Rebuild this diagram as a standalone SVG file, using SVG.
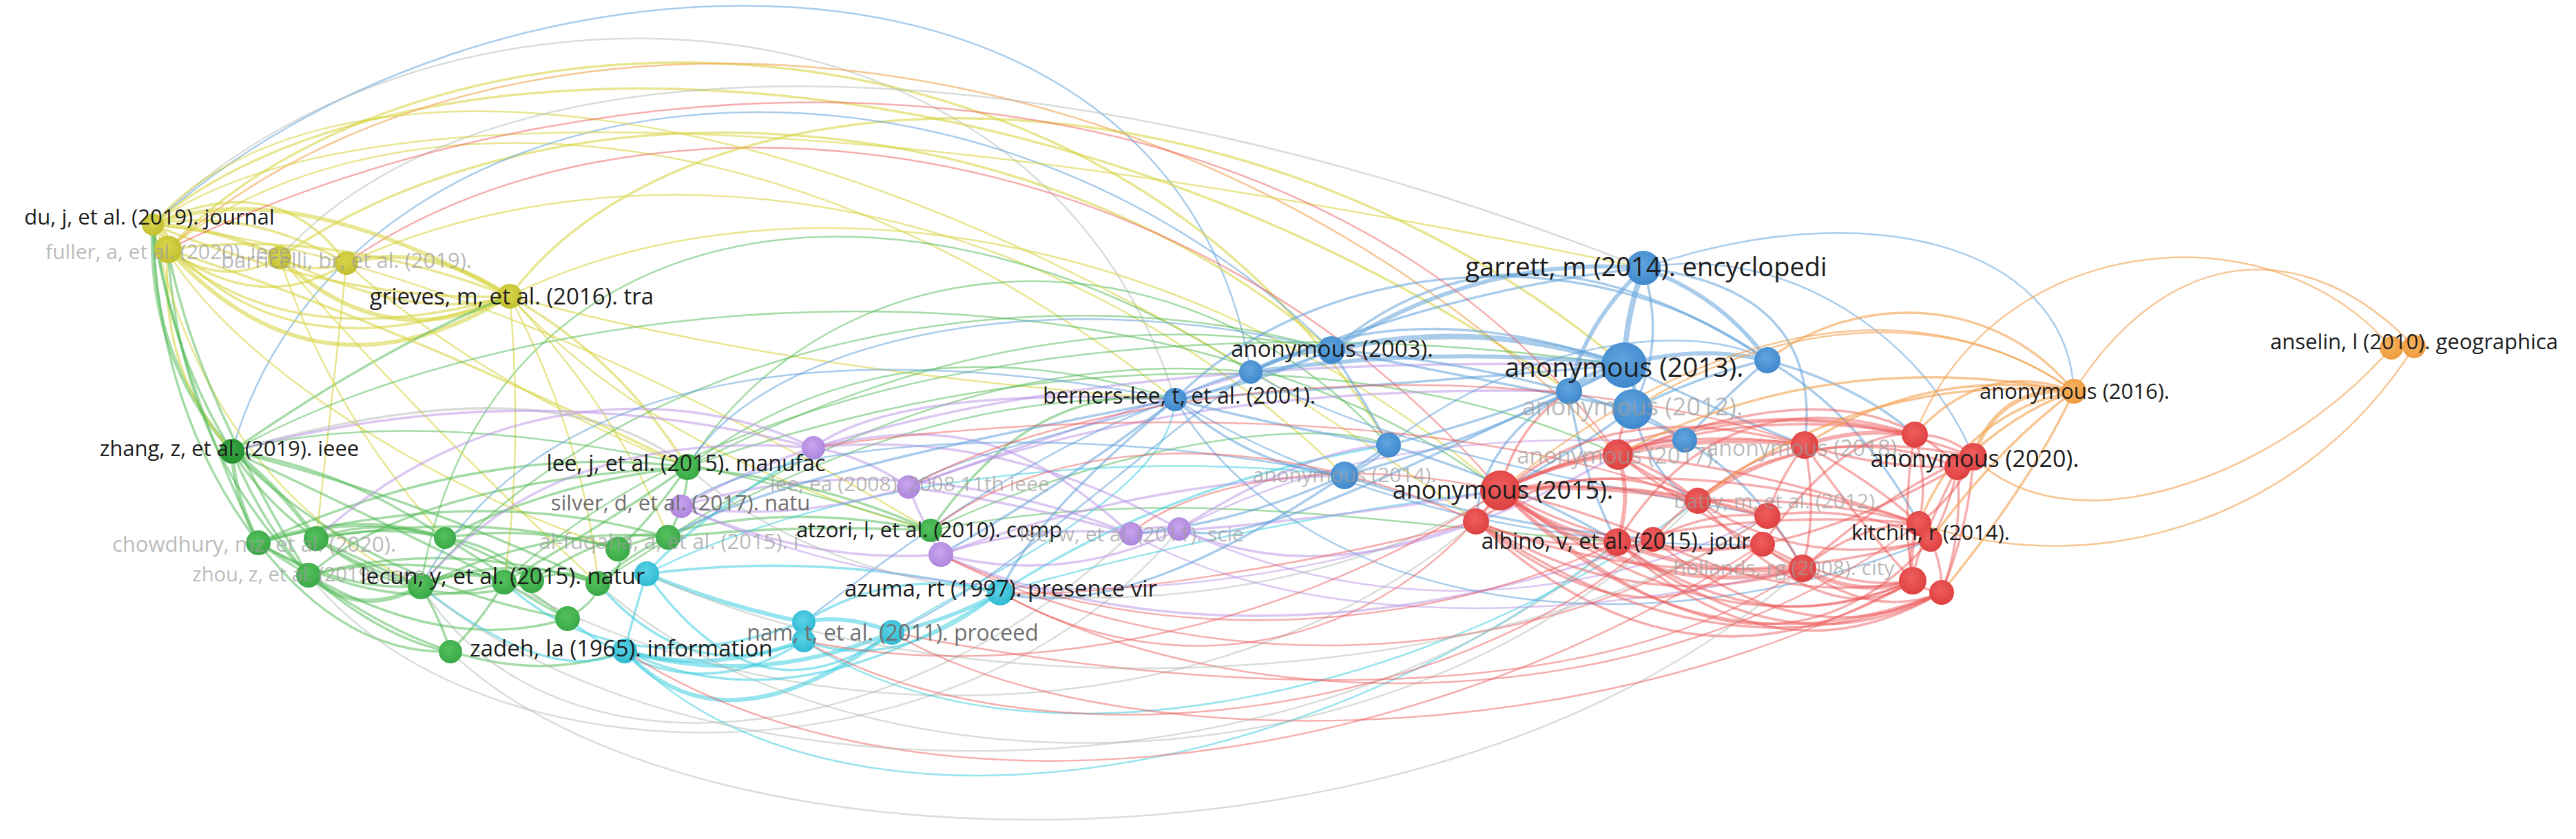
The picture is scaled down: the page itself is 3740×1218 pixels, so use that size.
<svg xmlns="http://www.w3.org/2000/svg" width="3740" height="1218" viewBox="0 0 3740 1218">
<style>
.e path{fill:none;stroke-width:3.5;stroke-linecap:round}
.ey{stroke:#d5d236;stroke-opacity:.55}
.eg{stroke:#4cb850;stroke-opacity:.5}
.ec{stroke:#3fcde0;stroke-opacity:.55}
.ep{stroke:#b88fe6;stroke-opacity:.5}
.eb{stroke:#5a9ed8;stroke-opacity:.52}
.er{stroke:#ec5454;stroke-opacity:.48}
.eo{stroke:#f2a04c;stroke-opacity:.6}
.ex{stroke:#a9b3ad;stroke-opacity:.45}
.w2{stroke-width:2.5!important}
.w5{stroke-width:6!important}
.w7{stroke-width:8!important}
text{font-family:"Open Sans","Noto Sans","DejaVu Sans",sans-serif;text-anchor:middle}
.ld{fill:#1d1d1d}
.lm{fill:#707070}
.lf{fill:#9c9c9c;fill-opacity:.7}
</style>
<defs>
<radialGradient id="gY" cx="45%" cy="40%" r="60%"><stop offset="0" stop-color="#d9d64e"/><stop offset="1" stop-color="#c2bf30"/></radialGradient>
<radialGradient id="gG" cx="45%" cy="40%" r="60%"><stop offset="0" stop-color="#55c25d"/><stop offset="1" stop-color="#3aa847"/></radialGradient>
<radialGradient id="gGd" cx="45%" cy="40%" r="60%"><stop offset="0" stop-color="#3aa946"/><stop offset="1" stop-color="#24902f"/></radialGradient>
<radialGradient id="gB" cx="45%" cy="40%" r="60%"><stop offset="0" stop-color="#62a6e0"/><stop offset="1" stop-color="#3f88cc"/></radialGradient>
<radialGradient id="gR" cx="45%" cy="40%" r="60%"><stop offset="0" stop-color="#ef5e5e"/><stop offset="1" stop-color="#de4040"/></radialGradient>
<radialGradient id="gP" cx="45%" cy="40%" r="60%"><stop offset="0" stop-color="#c8a4ee"/><stop offset="1" stop-color="#ad86dc"/></radialGradient>
<radialGradient id="gC" cx="45%" cy="40%" r="60%"><stop offset="0" stop-color="#5ad3e6"/><stop offset="1" stop-color="#30bad2"/></radialGradient>
<radialGradient id="gO" cx="45%" cy="40%" r="60%"><stop offset="0" stop-color="#f7b462"/><stop offset="1" stop-color="#ee9a3c"/></radialGradient>
</defs>
<rect width="3740" height="1218" fill="#ffffff"/>

<g id="connectors" class="e">
<!-- long top arcs -->
<path class="eb w2" d="M222 326 C700 -110 1700 -150 1816 540"/>
<path class="ex w2" d="M222 326 C600 -60 1500 -80 1706 580"/>
<path class="ey" d="M244 362 C600 -20 1600 -60 2016 646"/>
<path class="ey" d="M222 326 C550 40 1500 20 2278 568"/>
<path class="ey" d="M740 430 C1000 80 1800 60 2358 530"/>
<path class="ey w2" d="M244 362 C500 150 1100 100 1706 580"/>
<path class="eo w2" d="M244 362 C700 -50 1700 -20 2349 660"/>
<path class="ey" d="M406 374 C800 100 1500 130 1933 508"/>
<path class="ey w2" d="M503 382 C900 200 1500 250 1952 690"/>
<path class="ey w2" d="M740 430 C1100 250 1700 300 2178 712"/>
<path class="eb w2" d="M337 655 C500 80 1400 -20 1933 508"/>
<path class="eg w2" d="M611 851 C700 300 1300 200 1816 540"/>
<path class="eg w2" d="M998 678 C1200 350 1700 300 2016 646"/>
<path class="er w2" d="M2178 712 C1700 150 900 100 503 382"/>
<path class="ey w2" d="M222 326 C450 60 1200 60 2143 757"/>
<path class="ex w2" d="M406 374 C700 40 1500 40 2386 389"/>
<path class="ey w2" d="M222 326 C500 120 1300 160 2386 389"/>
<!-- yellow internal -->
<path class="ey w5" d="M222 326 Q250 340 244 362"/>
<path class="ey w5" d="M222 326 Q320 330 406 374"/>
<path class="ey" d="M222 326 Q360 300 503 382"/>
<path class="ey w5" d="M222 326 Q420 250 740 430"/>
<path class="ey" d="M222 326 Q400 560 740 430"/>
<path class="ey w5" d="M244 362 Q460 600 740 430"/>
<path class="ey" d="M244 362 Q380 460 503 382"/>
<path class="ey w5" d="M406 374 Q560 520 740 430"/>
<path class="ey w5" d="M503 382 Q620 350 740 430"/>
<path class="ey" d="M406 374 Q450 400 503 382"/>
<path class="ey" d="M244 362 Q320 420 406 374"/>
<path class="ey" d="M222 326 Q500 440 740 430"/>
<path class="ey" d="M244 362 Q480 330 740 430"/>
<path class="ey" d="M244 362 Q420 520 740 430"/>
<path class="ey" d="M406 374 Q600 470 740 430"/>
<path class="ey" d="M222 326 Q400 240 503 382"/>
<!-- yellow to green -->
<path class="eg w5" d="M222 326 Q215 520 337 655"/>
<path class="ey" d="M244 362 Q230 540 337 655"/>
<path class="eg" d="M222 326 Q250 520 337 655"/>
<path class="eg" d="M222 326 Q230 600 375 788"/>
<path class="eg" d="M244 362 Q260 650 448 835"/>
<path class="ey w2" d="M222 326 Q300 700 611 851"/>
<path class="ey" d="M740 430 Q900 520 998 678"/>
<path class="eg" d="M740 430 Q560 500 337 655"/>
<path class="ey w2" d="M503 382 Q480 600 459 782"/>
<path class="ey w2" d="M406 374 Q480 600 646 781"/>
<path class="ey w2" d="M740 430 Q760 650 732 845"/>
<path class="ey w2" d="M740 430 Q850 640 868 847"/>
<path class="ey w2" d="M740 430 Q900 600 970 780"/>
<path class="ey" d="M244 362 Q600 480 998 678"/>
<path class="ey w2" d="M222 326 Q700 380 1351 770"/>
<path class="ey w2" d="M222 326 C300 500 600 700 897 797"/>
<path class="ey w2" d="M406 374 Q600 600 868 847"/>
<path class="ey w2" d="M740 430 C900 600 1100 700 1351 770"/>
<path class="ey w2" d="M740 430 C1000 500 1300 550 1706 580"/>
<path class="eg" d="M375 788 Q260 550 222 326"/>
<path class="eg" d="M448 835 Q280 560 244 362"/>
<path class="ey w2" d="M503 382 Q700 560 998 678"/>
<!-- green internal -->
<path class="eg w5" d="M337 655 Q340 720 375 788"/>
<path class="eg w5" d="M337 655 Q400 700 459 782"/>
<path class="eg" d="M337 655 Q380 760 448 835"/>
<path class="eg" d="M337 655 Q500 680 646 781"/>
<path class="eg" d="M337 655 Q430 800 611 851"/>
<path class="eg" d="M337 655 Q560 760 732 845"/>
<path class="eg" d="M337 655 Q600 720 868 847"/>
<path class="eg" d="M337 655 Q520 840 824 898"/>
<path class="ex" d="M337 655 Q800 520 998 678"/>
<path class="eg w2" d="M337 655 Q700 560 1351 770"/>
<path class="eg w5" d="M375 788 Q520 740 646 781"/>
<path class="eg" d="M459 782 Q560 760 646 781"/>
<path class="eg" d="M375 788 Q700 700 970 780"/>
<path class="eg" d="M459 782 Q700 740 897 797"/>
<path class="eg" d="M448 835 Q600 800 732 845"/>
<path class="eg" d="M448 835 Q650 780 868 847"/>
<path class="eg" d="M375 788 Q500 860 611 851"/>
<path class="eg w5" d="M448 835 Q520 900 611 851"/>
<path class="eg" d="M459 782 Q540 820 611 851"/>
<path class="eg w5" d="M611 851 Q670 820 732 845"/>
<path class="eg" d="M611 851 Q740 800 868 847"/>
<path class="eg" d="M611 851 Q640 900 654 946"/>
<path class="eg" d="M732 845 Q790 880 824 898"/>
<path class="eg" d="M646 781 Q720 790 772 843"/>
<path class="eg" d="M646 781 Q800 700 998 678"/>
<path class="eg" d="M646 781 Q760 760 897 797"/>
<path class="eg" d="M772 843 Q830 820 868 847"/>
<path class="eg" d="M868 847 Q920 800 970 780"/>
<path class="eg" d="M897 797 Q940 760 998 678"/>
<path class="eg" d="M970 780 Q1000 720 998 678"/>
<path class="eg" d="M824 898 Q870 870 868 847"/>
<path class="eg" d="M654 946 Q700 900 732 845"/>
<path class="eg" d="M448 835 Q560 930 654 946"/>
<path class="eg" d="M375 788 Q500 950 654 946"/>
<path class="eg" d="M375 788 Q560 900 732 845"/>
<path class="eg" d="M459 782 Q620 900 772 843"/>
<path class="eg" d="M375 788 Q620 960 824 898"/>
<path class="eg" d="M448 835 Q700 1020 907 945"/>
<path class="eg" d="M459 782 Q600 730 772 843"/>
<path class="eg" d="M611 851 Q800 760 970 780"/>
<path class="eg" d="M732 845 Q880 760 998 678"/>
<path class="eg" d="M772 843 Q900 760 970 780"/>
<path class="eg" d="M646 781 Q760 850 824 898"/>
<path class="eg" d="M897 797 Q910 830 868 847"/>
<path class="eg" d="M970 780 Q1150 760 1351 770"/>
<path class="eg" d="M998 678 Q1200 700 1351 770"/>
<path class="eg" d="M897 797 Q1100 720 1351 770"/>
<path class="eg" d="M448 835 Q600 700 998 678"/>
<path class="eg" d="M375 788 Q700 640 998 678"/>
<!-- green long -->
<path class="eg w2" d="M998 678 Q1300 450 1706 580"/>
<path class="eg w2" d="M998 678 Q1500 420 1933 508"/>
<path class="eg" d="M1351 770 Q1500 550 1706 580"/>
<path class="eg w2" d="M970 780 Q1400 500 1816 540"/>
<path class="eg w2" d="M868 847 Q1300 560 1706 580"/>
<path class="eg w2" d="M611 851 C900 500 1500 380 1933 508"/>
<path class="eg w2" d="M732 845 C1100 500 1800 450 2358 530"/>
<path class="eg w2" d="M337 655 C800 400 1700 350 2178 712"/>
<path class="eg w2" d="M998 678 C1500 500 2000 500 2349 660"/>
<path class="eg w2" d="M1351 770 C1600 650 1900 600 2016 646"/>
<path class="eg w2" d="M1351 770 C1700 700 2000 760 2348 787"/>
<path class="ex w2" d="M611 851 C800 1150 1300 1100 1642 775"/>
<path class="ex w2" d="M448 835 C700 1150 1400 1150 1712 768"/>
<path class="ex w2" d="M732 845 C1200 1100 1800 1050 2143 757"/>
<!-- cyan -->
<path class="ec w5" d="M939 833 Q1050 880 1167 903"/>
<path class="ec w5" d="M907 945 Q1030 980 1167 930"/>
<path class="ec w5" d="M907 945 Q1100 1000 1295 918"/>
<path class="ec w5" d="M1167 903 Q1230 890 1295 918"/>
<path class="ec" d="M1167 930 Q1300 980 1452 860"/>
<path class="ec w5" d="M1295 918 Q1380 900 1452 860"/>
<path class="ec" d="M939 833 Q1200 800 1452 860"/>
<path class="ec" d="M907 945 Q1150 1060 1452 860"/>
<path class="ec" d="M939 833 Q920 890 907 945"/>
<path class="ec" d="M1167 903 Q1300 820 1452 860"/>
<path class="ec w5" d="M907 945 Q1050 1100 1295 918"/>
<path class="ec" d="M868 847 Q1000 1000 1167 930"/>
<path class="ec" d="M732 845 Q900 1000 1167 903"/>
<path class="ec" d="M939 833 Q1100 1060 1295 918"/>
<path class="ec" d="M824 898 Q1000 1040 1167 930"/>
<path class="ec" d="M611 851 Q800 1000 907 945"/>
<path class="ec" d="M939 833 Q1000 760 1181 650"/>
<path class="ec w2" d="M907 945 C1200 1250 1900 1150 2348 787"/>
<path class="ec w2" d="M1167 930 C1500 1150 2100 1000 2465 727"/>
<path class="ec" d="M1452 860 Q1700 700 2016 646"/>
<path class="ec w2" d="M1452 860 Q1800 760 2178 712"/>
<path class="ec w2" d="M939 833 C1200 700 1600 650 1952 690"/>
<path class="ec w2" d="M1295 918 C1500 800 1700 700 1706 580"/>
<!-- purple -->
<path class="ep" d="M337 655 Q760 540 1181 650"/>
<path class="ep" d="M611 851 Q800 620 1181 650"/>
<path class="ep" d="M989 735 Q1090 680 1181 650"/>
<path class="ep" d="M989 735 Q1150 760 1319 707"/>
<path class="ep" d="M1181 650 Q1250 660 1319 707"/>
<path class="ep" d="M1319 707 Q1340 760 1366 805"/>
<path class="ep" d="M1366 805 Q1500 760 1642 775"/>
<path class="ep" d="M1319 707 Q1480 730 1642 775"/>
<path class="ep" d="M1642 775 Q1680 760 1712 768"/>
<path class="ep" d="M1181 650 Q1450 620 1712 768"/>
<path class="ep" d="M1366 805 Q1550 850 1712 768"/>
<path class="ep" d="M1712 768 Q1900 650 2016 646"/>
<path class="ep" d="M1642 775 Q1900 760 2178 712"/>
<path class="ep" d="M1712 768 C1900 850 2100 800 2349 660"/>
<path class="ep" d="M1319 707 C1600 600 1900 560 2278 568"/>
<path class="ep" d="M1181 650 C1500 550 1900 520 2358 530"/>
<path class="ep w2" d="M989 735 C1300 880 1700 900 2143 757"/>
<path class="ep" d="M1366 805 C1700 950 2100 900 2400 783"/>
<path class="ep" d="M1181 650 C1000 560 700 560 459 782"/>
<path class="ep" d="M1642 775 C1500 650 1400 600 1181 650"/>
<path class="ep" d="M989 735 Q1180 820 1366 805"/>
<path class="ep" d="M1181 650 Q1300 560 1706 580"/>
<path class="ep" d="M1319 707 Q1500 640 1816 540"/>
<path class="ep" d="M1366 805 Q1650 700 1952 690"/>
<path class="ep" d="M989 735 Q1300 640 1642 775"/>
<path class="ep w2" d="M1712 768 C2000 900 2300 880 2566 749"/>
<path class="ep w2" d="M1642 775 C1900 920 2300 900 2617 825"/>
<path class="ep w2" d="M1712 768 C2000 620 2250 640 2446 639"/>
<!-- blue -->
<path class="eb w7" d="M2386 389 Q2360 460 2358 530"/>
<path class="eb w5" d="M2386 389 Q2300 470 2278 568"/>
<path class="eb w5" d="M2386 389 Q2500 430 2566 523"/>
<path class="eb" d="M2386 389 Q2420 500 2370 594"/>
<path class="eb w5" d="M2386 389 Q2150 370 1933 508"/>
<path class="eb" d="M2386 389 Q2100 420 1816 540"/>
<path class="eb" d="M2386 389 Q2650 420 2620 646"/>
<path class="eb w7" d="M2358 530 Q2150 460 1933 508"/>
<path class="eb w5" d="M2358 530 Q2100 500 1816 540"/>
<path class="eb" d="M2358 530 Q2000 560 1706 580"/>
<path class="eb w5" d="M2358 530 Q2460 500 2566 523"/>
<path class="eb w5" d="M2358 530 Q2300 540 2278 568"/>
<path class="eb w5" d="M2358 530 Q2380 560 2370 594"/>
<path class="eb" d="M2358 530 Q2200 600 2016 646"/>
<path class="eb" d="M2358 530 Q2150 640 1952 690"/>
<path class="eb" d="M2370 594 Q2200 560 1933 508"/>
<path class="eb" d="M2370 594 Q2420 620 2446 639"/>
<path class="eb" d="M2370 594 Q2480 540 2566 523"/>
<path class="eb" d="M2278 568 Q2100 520 1933 508"/>
<path class="eb w5" d="M1933 508 Q1870 510 1816 540"/>
<path class="eb" d="M1816 540 Q1760 550 1706 580"/>
<path class="eb" d="M1933 508 Q1820 560 1706 580"/>
<path class="eb" d="M1706 580 Q1860 620 2016 646"/>
<path class="eb" d="M1706 580 Q1820 680 1952 690"/>
<path class="eb" d="M2016 646 Q2000 670 1952 690"/>
<path class="eb" d="M1933 508 Q1980 580 2016 646"/>
<path class="eb" d="M2566 523 Q2500 580 2446 639"/>
<path class="eb" d="M2278 568 Q2380 600 2446 639"/>
<path class="eb" d="M1933 508 Q2200 280 2566 523"/>
<path class="eb" d="M1706 580 C1900 380 2300 330 2566 523"/>
<path class="eb" d="M1816 540 Q2050 420 2358 530"/>
<path class="eb w2" d="M2386 389 C2600 350 2800 500 2865 663"/>
<path class="eb w2" d="M2386 389 C2700 280 3000 350 3011 568"/>
<path class="eb" d="M2370 594 Q2280 660 2178 712"/>
<path class="eb" d="M2358 530 Q2500 600 2620 646"/>
<path class="eb" d="M2566 523 Q2700 560 2780 631"/>
<path class="eb" d="M2446 639 Q2550 700 2617 825"/>
<path class="eb" d="M2016 646 Q2200 700 2348 787"/>
<path class="eb" d="M1952 690 Q2150 760 2400 783"/>
<path class="eb" d="M2370 594 Q2400 700 2465 727"/>
<path class="eb" d="M2566 523 Q2700 600 2786 760"/>
<path class="eb w2" d="M1706 580 C1900 700 2200 800 2559 790"/>
<path class="eb w2" d="M1816 540 C2000 650 2300 700 2566 749"/>
<path class="eb" d="M2278 568 Q2300 700 2348 787"/>
<path class="eb" d="M1706 580 C1400 640 1100 700 970 780"/>
<path class="eb" d="M1706 580 Q1500 750 1452 860"/>
<path class="eb w2" d="M1933 508 C1500 400 1100 500 998 678"/>
<path class="eb w2" d="M1706 580 C1300 500 800 500 611 851"/>
<path class="eb" d="M1706 580 Q1550 700 1366 805"/>
<path class="eb w2" d="M1706 580 C1500 650 1300 800 1167 903"/>
<path class="eb w2" d="M1816 540 C1600 700 1450 850 1295 918"/>
<path class="eb" d="M2016 646 C1800 800 1600 900 1452 860"/>
<path class="eb" d="M1952 690 Q1800 760 1642 775"/>
<path class="eb w2" d="M1933 508 C1700 600 1400 650 1319 707"/>
<path class="eb" d="M2358 530 C2000 700 1800 800 1712 768"/>
<path class="eb w2" d="M1706 580 C1900 900 2400 950 2803 784"/>
<path class="eb w2" d="M1952 690 C1500 600 1100 650 989 735"/>
<path class="eb" d="M2278 568 Q2150 640 2143 757"/>
<path class="eb w2" d="M2016 646 C2200 500 2450 460 2566 523"/>
<!-- red -->
<path class="er w5" d="M2178 712 Q2260 670 2349 660"/>
<path class="er w5" d="M2178 712 Q2250 770 2348 787"/>
<path class="er" d="M2178 712 Q2300 740 2400 783"/>
<path class="er w5" d="M2178 712 Q2320 700 2465 727"/>
<path class="er" d="M2178 712 Q2370 690 2566 749"/>
<path class="er" d="M2178 712 Q2370 820 2559 790"/>
<path class="er w5" d="M2178 712 Q2400 880 2617 825"/>
<path class="er" d="M2178 712 Q2400 610 2620 646"/>
<path class="er" d="M2178 712 Q2480 660 2786 760"/>
<path class="er" d="M2178 712 Q2500 960 2777 843"/>
<path class="er" d="M2178 712 Q2500 560 2780 631"/>
<path class="er" d="M2143 757 Q2240 800 2348 787"/>
<path class="er" d="M2143 757 Q2380 900 2617 825"/>
<path class="er" d="M2143 757 Q2500 1000 2819 860"/>
<path class="er" d="M2143 757 Q2300 650 2465 727"/>
<path class="er" d="M2143 757 Q2450 880 2803 784"/>
<path class="er w5" d="M2349 660 Q2370 720 2348 787"/>
<path class="er" d="M2349 660 Q2410 680 2465 727"/>
<path class="er w5" d="M2349 660 Q2480 630 2620 646"/>
<path class="er" d="M2349 660 Q2560 590 2780 631"/>
<path class="er" d="M2349 660 Q2600 560 2865 663"/>
<path class="er" d="M2349 660 Q2480 760 2617 825"/>
<path class="er" d="M2349 660 Q2560 680 2786 760"/>
<path class="er" d="M2349 660 Q2450 730 2566 749"/>
<path class="er" d="M2348 787 Q2370 800 2400 783"/>
<path class="er" d="M2348 787 Q2450 810 2559 790"/>
<path class="er w5" d="M2348 787 Q2480 840 2617 825"/>
<path class="er" d="M2348 787 Q2560 740 2786 760"/>
<path class="er" d="M2348 787 Q2560 940 2777 843"/>
<path class="er" d="M2348 787 Q2600 980 2819 860"/>
<path class="er" d="M2400 783 Q2480 740 2566 749"/>
<path class="er" d="M2400 783 Q2600 880 2777 843"/>
<path class="er" d="M2465 727 Q2520 720 2566 749"/>
<path class="er" d="M2465 727 Q2540 660 2620 646"/>
<path class="er" d="M2465 727 Q2630 720 2786 760"/>
<path class="er" d="M2465 727 Q2620 830 2803 784"/>
<path class="er" d="M2465 727 Q2650 600 2842 678"/>
<path class="er" d="M2566 749 Q2600 790 2617 825"/>
<path class="er" d="M2566 749 Q2690 730 2803 784"/>
<path class="er" d="M2566 749 Q2580 700 2620 646"/>
<path class="er" d="M2559 790 Q2590 820 2617 825"/>
<path class="er" d="M2559 790 Q2680 860 2777 843"/>
<path class="er" d="M2559 790 Q2700 760 2842 678"/>
<path class="er w5" d="M2617 825 Q2700 870 2777 843"/>
<path class="er" d="M2617 825 Q2720 900 2819 860"/>
<path class="er" d="M2617 825 Q2700 760 2786 760"/>
<path class="er w5" d="M2620 646 Q2700 620 2780 631"/>
<path class="er" d="M2620 646 Q2730 680 2842 678"/>
<path class="er" d="M2620 646 Q2720 700 2786 760"/>
<path class="er" d="M2620 646 Q2700 760 2777 843"/>
<path class="er" d="M2620 646 Q2640 740 2617 825"/>
<path class="er" d="M2780 631 Q2830 630 2865 663"/>
<path class="er" d="M2780 631 Q2800 700 2786 760"/>
<path class="er" d="M2780 631 Q2760 740 2777 843"/>
<path class="er" d="M2842 678 Q2830 740 2803 784"/>
<path class="er" d="M2865 663 Q2840 720 2786 760"/>
<path class="er" d="M2865 663 Q2860 760 2819 860"/>
<path class="er w5" d="M2786 760 Q2770 800 2777 843"/>
<path class="er" d="M2803 784 Q2820 820 2819 860"/>
<path class="er" d="M2777 843 Q2800 860 2819 860"/>
<path class="er" d="M2842 678 Q2850 780 2819 860"/>
<path class="er" d="M2842 678 Q2780 800 2777 843"/>
<path class="er" d="M2178 712 Q2460 1000 2819 860"/>
<path class="er" d="M2143 757 Q2450 1040 2777 843"/>
<path class="er" d="M2348 787 Q2580 1000 2819 860"/>
<path class="er" d="M2400 783 Q2620 960 2819 860"/>
<path class="er" d="M2465 727 Q2660 930 2777 843"/>
<path class="er" d="M2143 757 Q2300 560 2620 646"/>
<path class="er" d="M2349 660 Q2350 620 2370 594"/>
<path class="er" d="M2178 712 Q2200 620 2278 568"/>
<path class="er" d="M2348 787 Q2500 540 2780 631"/>
<path class="er" d="M2617 825 Q2760 700 2865 663"/>
<path class="er" d="M2559 790 Q2680 620 2780 631"/>
<path class="er" d="M2400 783 Q2560 600 2865 663"/>
<path class="er" d="M2143 757 Q2400 960 2559 790"/>
<path class="er" d="M2178 712 Q2560 1060 2803 784"/>
<path class="er" d="M2349 660 Q2700 520 2842 678"/>
<!-- red long -->
<path class="ex w2" d="M654 946 C1000 1280 2100 1300 2617 825"/>
<path class="er w2" d="M907 945 C1300 1200 2000 1150 2559 790"/>
<path class="er w2" d="M1167 930 C1500 1120 2100 1050 2400 783"/>
<path class="er w2" d="M1452 860 C1700 1000 2000 950 2178 712"/>
<path class="er w2" d="M1366 805 C1700 980 2200 1000 2566 749"/>
<path class="er w2" d="M1295 918 C1600 1100 2300 1100 2777 843"/>
<path class="ex w2" d="M868 847 C1200 1150 2000 1200 2465 727"/>
<path class="ex w2" d="M611 851 C1000 1180 1900 1180 2348 787"/>
<path class="er w2" d="M1452 860 C1800 1050 2400 1050 2786 760"/>
<path class="ex w2" d="M998 678 C1300 950 1900 900 2178 712"/>
<path class="er w2" d="M2178 712 C1900 650 1700 720 1642 775"/>
<path class="er w2" d="M2143 757 C1900 820 1600 870 1452 860"/>
<path class="er w2" d="M2348 787 C2000 950 1600 920 1366 805"/>
<path class="er w2" d="M2617 825 C2300 1050 1700 1000 1295 918"/>
<path class="er w2" d="M2349 660 C1900 40 900 40 244 362"/>
<path class="er w2" d="M2143 757 C1800 600 1500 650 1351 770"/>
<path class="er w2" d="M2465 727 C2100 580 1500 600 1181 650"/>
<path class="er w2" d="M2620 646 C2200 500 1600 550 1319 707"/>
<path class="ex w2" d="M2566 749 C2200 1000 1400 1050 939 833"/>
<path class="er w2" d="M2178 712 C1900 900 1500 1000 1167 930"/>
<!-- orange -->
<path class="eo w5" d="M3011 568 Q2900 560 2865 663"/>
<path class="eo" d="M3011 568 Q2920 600 2842 678"/>
<path class="eo" d="M3011 568 Q2880 520 2780 631"/>
<path class="eo" d="M3011 568 Q2800 530 2620 646"/>
<path class="eo" d="M3011 568 Q2700 540 2465 727"/>
<path class="eo" d="M3011 568 Q2650 500 2349 660"/>
<path class="eo" d="M3011 568 Q2900 650 2803 784"/>
<path class="eo" d="M3011 568 Q2950 700 2819 860"/>
<path class="eo" d="M3011 568 C2900 430 2700 420 2566 523"/>
<path class="eo w2" d="M3011 568 C2850 450 2600 450 2370 594"/>
<path class="eo" d="M3011 568 Q2850 600 2786 760"/>
<path class="eo w2" d="M3011 568 C2800 420 2500 450 2178 712"/>
<path class="eo w2" d="M3505 503 C3350 340 3150 350 3011 568"/>
<path class="eo w2" d="M3472 505 C3300 300 2900 330 2780 631"/>
<path class="eo w2" d="M3505 503 C3350 750 3050 850 2786 760"/>
<path class="eo w2" d="M3472 505 C3300 700 3000 800 2865 663"/>
<path class="eo" d="M3505 503 Q3490 490 3472 505"/>
</g>

<g id="nodes">
<g id="n-du"><circle cx="222" cy="326" r="16" fill="url(#gY)"/></g>
<g id="n-fuller"><circle cx="244" cy="362" r="20" fill="url(#gY)"/></g>
<g id="n-y3"><circle cx="406" cy="374" r="17" fill="url(#gY)"/></g>
<g id="n-barricelli"><circle cx="503" cy="382" r="17" fill="url(#gY)"/></g>
<g id="n-grieves"><circle cx="740" cy="430" r="18" fill="url(#gY)"/></g>
<g id="n-zhang"><circle cx="337" cy="655" r="18" fill="url(#gGd)"/></g>
<g id="n-chowdhury"><circle cx="375" cy="788" r="18" fill="url(#gG)"/></g>
<g id="n-g3"><circle cx="459" cy="782" r="18" fill="url(#gG)"/></g>
<g id="n-zhou"><circle cx="448" cy="835" r="18" fill="url(#gG)"/></g>
<g id="n-g5"><circle cx="646" cy="781" r="16" fill="url(#gG)"/></g>
<g id="n-g6"><circle cx="611" cy="851" r="19" fill="url(#gG)"/></g>
<g id="n-lecun"><circle cx="732" cy="845" r="18" fill="url(#gG)"/></g>
<g id="n-g8"><circle cx="772" cy="843" r="18" fill="url(#gG)"/></g>
<g id="n-g9"><circle cx="868" cy="847" r="18" fill="url(#gG)"/></g>
<g id="n-g10"><circle cx="824" cy="898" r="18" fill="url(#gG)"/></g>
<g id="n-g11"><circle cx="654" cy="946" r="17" fill="url(#gG)"/></g>
<g id="n-lee"><circle cx="998" cy="678" r="19" fill="url(#gG)"/></g>
<g id="n-alfuqaha"><circle cx="970" cy="780" r="18" fill="url(#gG)"/></g>
<g id="n-g14"><circle cx="897" cy="797" r="18" fill="url(#gG)"/></g>
<g id="n-atzori"><circle cx="1351" cy="770" r="17" fill="url(#gG)"/></g>
<g id="n-c1"><circle cx="939" cy="833" r="18" fill="url(#gC)"/></g>
<g id="n-zadeh"><circle cx="907" cy="945" r="18" fill="url(#gC)"/></g>
<g id="n-c3"><circle cx="1167" cy="903" r="17" fill="url(#gC)"/></g>
<g id="n-c4"><circle cx="1167" cy="930" r="17" fill="url(#gC)"/></g>
<g id="n-nam"><circle cx="1295" cy="918" r="18" fill="url(#gC)"/></g>
<g id="n-azuma"><circle cx="1452" cy="860" r="19" fill="url(#gC)"/></g>
<g id="n-p1"><circle cx="1181" cy="650" r="17" fill="url(#gP)"/></g>
<g id="n-leeea"><circle cx="1319" cy="707" r="17" fill="url(#gP)"/></g>
<g id="n-silver"><circle cx="989" cy="735" r="17" fill="url(#gP)"/></g>
<g id="n-p4"><circle cx="1366" cy="805" r="18" fill="url(#gP)"/></g>
<g id="n-leew"><circle cx="1642" cy="775" r="17" fill="url(#gP)"/></g>
<g id="n-p6"><circle cx="1712" cy="768" r="17" fill="url(#gP)"/></g>
<g id="n-garrett"><circle cx="2386" cy="389" r="25" fill="url(#gB)"/></g>
<g id="n-anon2013"><circle cx="2358" cy="530" r="33" fill="url(#gB)"/></g>
<g id="n-anon2012"><circle cx="2370" cy="594" r="29" fill="url(#gB)"/></g>
<g id="n-b4"><circle cx="2278" cy="568" r="19" fill="url(#gB)"/></g>
<g id="n-b5"><circle cx="2566" cy="523" r="19" fill="url(#gB)"/></g>
<g id="n-b6"><circle cx="2446" cy="639" r="18" fill="url(#gB)"/></g>
<g id="n-b7"><circle cx="2016" cy="646" r="18" fill="url(#gB)"/></g>
<g id="n-b8"><circle cx="1952" cy="690" r="20" fill="url(#gB)"/></g>
<g id="n-anon2003"><circle cx="1933" cy="508" r="20" fill="url(#gB)"/></g>
<g id="n-b10"><circle cx="1816" cy="540" r="17" fill="url(#gB)"/></g>
<g id="n-berners"><circle cx="1706" cy="580" r="17" fill="url(#gB)"/></g>
<g id="n-anon2015"><circle cx="2178" cy="712" r="29" fill="url(#gR)"/></g>
<g id="n-r2"><circle cx="2143" cy="757" r="19" fill="url(#gR)"/></g>
<g id="n-anon2017"><circle cx="2349" cy="660" r="22" fill="url(#gR)"/></g>
<g id="n-albino"><circle cx="2348" cy="787" r="20" fill="url(#gR)"/></g>
<g id="n-r5"><circle cx="2400" cy="783" r="18" fill="url(#gR)"/></g>
<g id="n-r6"><circle cx="2465" cy="727" r="19" fill="url(#gR)"/></g>
<g id="n-r7"><circle cx="2566" cy="749" r="19" fill="url(#gR)"/></g>
<g id="n-r8"><circle cx="2559" cy="790" r="18" fill="url(#gR)"/></g>
<g id="n-r9"><circle cx="2617" cy="825" r="20" fill="url(#gR)"/></g>
<g id="n-anon2018"><circle cx="2620" cy="646" r="20" fill="url(#gR)"/></g>
<g id="n-r11"><circle cx="2780" cy="631" r="19" fill="url(#gR)"/></g>
<g id="n-r12"><circle cx="2842" cy="678" r="19" fill="url(#gR)"/></g>
<g id="n-anon2020"><circle cx="2865" cy="663" r="20" fill="url(#gR)"/></g>
<g id="n-r14"><circle cx="2786" cy="760" r="18" fill="url(#gR)"/></g>
<g id="n-kitchin"><circle cx="2803" cy="784" r="17" fill="url(#gR)"/></g>
<g id="n-r16"><circle cx="2777" cy="843" r="20" fill="url(#gR)"/></g>
<g id="n-r17"><circle cx="2819" cy="860" r="18" fill="url(#gR)"/></g>
<g id="n-anon2016"><circle cx="3011" cy="568" r="18" fill="url(#gO)"/></g>
<g id="n-o2"><circle cx="3472" cy="505" r="17" fill="url(#gO)"/></g>
<g id="n-anselin"><circle cx="3505" cy="503" r="17" fill="url(#gO)"/></g>
</g>

<g id="labels">
<text class="lf" x="244" y="376" font-size="30">fuller, a, et al. (2020). ieee</text>
<text class="lf" x="503" y="389" font-size="31">barricelli, br, et al. (2019).</text>
<text class="ld" x="217" y="326" font-size="31">du, j, et al. (2019). journal</text>
<text class="ld" x="743" y="442" font-size="33">grieves, m, et al. (2016). tra</text>
<text class="ld" x="333" y="662" font-size="31">zhang, z, et al. (2019). ieee</text>
<text class="lf" x="369" y="801" font-size="31">chowdhury, mz, et al. (2020).</text>
<text class="lf" x="448" y="844" font-size="29">zhou, z, et al. (2019). ieee</text>
<text class="ld" x="730" y="848" font-size="33">lecun, y, et al. (2015). natur</text>
<text class="ld" x="902" y="953" font-size="33">zadeh, la (1965). information</text>
<text class="ld" x="996" y="684" font-size="32">lee, j, et al. (2015). manufac</text>
<text class="lm" x="988" y="741" font-size="31">silver, d, et al. (2017). natu</text>
<text class="lf" x="971" y="797" font-size="31">al-fuqaha, a, et al. (2015). i</text>
<text class="lf" x="1321" y="713" font-size="30">lee, ea (2008). 2008 11th ieee</text>
<text class="ld" x="1349" y="780" font-size="31">atzori, l, et al. (2010). comp</text>
<text class="lf" x="1643" y="786" font-size="30">lee, w, et al. (2011). scie</text>
<text class="ld" x="1453" y="866" font-size="33">azuma, rt (1997). presence vir</text>
<text class="lm" x="1296" y="930" font-size="32">nam, t, et al. (2011). proceed</text>
<text class="ld" x="1712" y="586" font-size="32">berners-lee, t, et al. (2001).</text>
<text class="lf" x="1952" y="700" font-size="30">anonymous (2014).</text>
<text class="ld" x="1934" y="518" font-size="33">anonymous (2003).</text>
<text class="ld" x="2390" y="401" font-size="38">garrett, m (2014). encyclopedi</text>
<text class="lf" x="2370" y="603" font-size="36">anonymous (2012).</text>
<text class="ld" x="2358" y="547" font-size="39">anonymous (2013).</text>
<text class="lf" x="2349" y="673" font-size="33">anonymous (2017).</text>
<text class="lf" x="2620" y="662" font-size="32">anonymous (2018).</text>
<text class="lf" x="2580" y="738" font-size="30">batty, m, et al. (2012).</text>
<text class="lf" x="2590" y="835" font-size="30">hollands, rg (2008). city</text>
<text class="ld" x="2182" y="724" font-size="36">anonymous (2015).</text>
<text class="ld" x="2346" y="797" font-size="32">albino, v, et al. (2015). jour</text>
<text class="ld" x="2867" y="678" font-size="34">anonymous (2020).</text>
<text class="ld" x="2803" y="784" font-size="31">kitchin, r (2014).</text>
<text class="ld" x="3012" y="579" font-size="31">anonymous (2016).</text>
<text class="ld" x="3505" y="507" font-size="31">anselin, l (2010). geographica</text>
</g>
</svg>
